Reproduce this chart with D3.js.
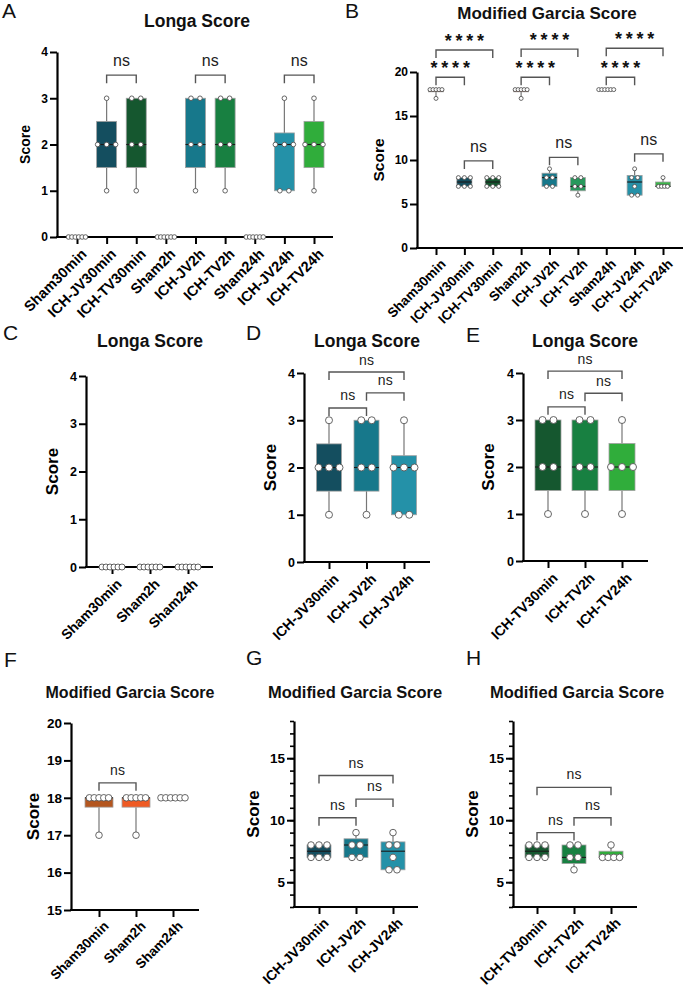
<!DOCTYPE html>
<html><head><meta charset="utf-8">
<script src="https://cdn.jsdelivr.net/npm/d3@7"></script>
<style>
body{margin:0;background:#fff}
svg{display:block}
text{font-family:"Liberation Sans",Arial,Helvetica,sans-serif}
</style>
</head><body>
<svg id="chart" width="685" height="988"></svg>
<script>
// ---------------- data ----------------
const categories = ["Sham30min","ICH-JV30min","ICH-TV30min","Sham2h","ICH-JV2h","ICH-TV2h","Sham24h","ICH-JV24h","ICH-TV24h"];
const shamGroups = ["Sham30min","Sham2h","Sham24h"];
const jvGroups = ["ICH-JV30min","ICH-JV2h","ICH-JV24h"];
const tvGroups = ["ICH-TV30min","ICH-TV2h","ICH-TV24h"];

// individual animal scores, in the order of `categories`
const longaValues = [
  [0,0,0,0,0,0],
  [1,2,2,2,3],
  [1,2,2,3,3],
  [0,0,0,0,0,0],
  [1,2,2,3,3],
  [1,2,2,3,3],
  [0,0,0,0,0,0],
  [1,1,2,2,2,3],
  [1,2,2,2,3]
];
const garciaValues = [
  [17,18,18,18,18,18],
  [7,7,7,8,8,8],
  [7,7,7,8,8,8],
  [17,18,18,18,18,18],
  [7,7,8,8,9],
  [6,7,7,8,8],
  [18,18,18,18,18,18],
  [6,6,7,8,8,9],
  [7,7,7,7,8]
];

const longaTicks = [0,1,2,3,4];
const garciaTicksB = [0,5,10,15,20];
const garciaTicksF = [15,16,17,18,19,20];
const garciaTicksGH = [5,10,15];
const garciaMinorGH = [3,4,5,6,7,8,9,10,11,12,13,14,15,16,17,18];

// comparisons: [group1, group2, bracket height (score units), label]
const bracketsA = [["ICH-JV30min","ICH-TV30min",3.5,"ns"],["ICH-JV2h","ICH-TV2h",3.5,"ns"],["ICH-JV24h","ICH-TV24h",3.5,"ns"]];
const bracketsB = [
  ["Sham30min","ICH-TV30min",22.5,"****"],["Sham30min","ICH-JV30min",19.4,"****"],["ICH-JV30min","ICH-TV30min",9.9,"ns"],
  ["Sham2h","ICH-TV2h",22.6,"****"],["Sham2h","ICH-JV2h",19.4,"****"],["ICH-JV2h","ICH-TV2h",10.3,"ns"],
  ["Sham24h","ICH-TV24h",22.7,"****"],["Sham24h","ICH-JV24h",19.4,"****"],["ICH-JV24h","ICH-TV24h",10.7,"ns"]
];
const bracketsC = [];
const bracketsD = [["ICH-JV30min","ICH-JV24h",4.02,"ns"],["ICH-JV2h","ICH-JV24h",3.58,"ns"],["ICH-JV30min","ICH-JV2h",3.26,"ns"]];
const bracketsE = [["ICH-TV30min","ICH-TV24h",4.04,"ns"],["ICH-TV2h","ICH-TV24h",3.57,"ns"],["ICH-TV30min","ICH-TV2h",3.28,"ns"]];
const bracketsF = [["Sham30min","Sham2h",18.4,"ns"]];
const bracketsG = [["ICH-JV30min","ICH-JV24h",13.6,"ns"],["ICH-JV2h","ICH-JV24h",11.7,"ns"],["ICH-JV30min","ICH-JV2h",10.2,"ns"]];
const bracketsH = [["ICH-TV30min","ICH-TV24h",12.65,"ns"],["ICH-TV2h","ICH-TV24h",10.2,"ns"],["ICH-TV30min","ICH-TV2h",9.0,"ns"]];

// ---------------- styles ----------------
const groupColors = {
  "Sham30min":"#b4561f","Sham2h":"#ef5a23","Sham24h":"#f39a5a",
  "ICH-JV30min":"#144e5f","ICH-TV30min":"#15572f",
  "ICH-JV2h":"#17788b","ICH-TV2h":"#188041",
  "ICH-JV24h":"#2491a8","ICH-TV24h":"#30ad3b"
};
const groupColorsB = Object.assign({}, groupColors, {"ICH-TV2h":"#27995c","ICH-TV24h":"#3bb84a"});

const svg = d3.select("#chart");

function quant(s, p){
  const n = s.length, pos = p*(n+1);
  if (pos <= 1) return s[0];
  if (pos >= n) return s[n-1];
  const lo = Math.floor(pos), f = pos - lo;
  return s[lo-1] + f*(s[lo]-s[lo-1]);
}

function drawPanel(cfg){
  const g = svg.append("g");
  const valuesOf = c => cfg.values[categories.indexOf(c)];
  const x = d3.scalePoint().domain(cfg.cats).range([cfg.xFirst, cfg.xLast]);
  const y = d3.scaleLinear().domain(cfg.domain).range([cfg.yBottom, cfg.yTop]);
  const colors = cfg.colors || groupColors;

  // panel letter & title
  g.append("text").attr("x",cfg.labelX).attr("y",cfg.labelY).attr("font-size",21).attr("fill","#111").text(cfg.label);
  g.append("text").attr("x",cfg.titleX).attr("y",cfg.titleY).attr("text-anchor","middle")
    .attr("font-size",cfg.titleSize).attr("font-weight","bold").attr("fill","#111").text(cfg.title);

  // y axis
  if (cfg.minor){
    const ym = g.append("g").attr("transform",`translate(${cfg.x0},0)`)
      .call(d3.axisLeft(y).tickValues(cfg.minor).tickSize(4).tickSizeOuter(0).tickFormat(""));
    ym.select(".domain").remove();
    ym.selectAll(".tick line").attr("stroke","#000").attr("stroke-width",1.6);
  }
  const ya = g.append("g").attr("transform",`translate(${cfg.x0},0)`)
    .call(d3.axisLeft(y).tickValues(cfg.ticks).tickSize(7).tickSizeOuter(0).tickFormat(d3.format("d")));
  ya.select(".domain").attr("stroke","#000").attr("stroke-width",2.2);
  ya.selectAll(".tick line").attr("stroke","#000").attr("stroke-width",2);
  ya.selectAll(".tick text").attr("font-size",cfg.tickFont).attr("font-weight","bold").attr("fill","#000").attr("x",-9);

  // x axis
  const xa = g.append("g").attr("transform",`translate(0,${cfg.yBottom})`)
    .call(d3.axisBottom(x).tickSize(7).tickSizeOuter(0));
  xa.select(".domain").remove();
  xa.selectAll(".tick line").attr("stroke","#000").attr("stroke-width",2);
  xa.selectAll(".tick text").attr("font-size",cfg.xFont).attr("font-weight","bold").attr("fill","#000")
    .attr("text-anchor","end").attr("x",0).attr("y",0).attr("dy",0)
    .attr("transform",`translate(${cfg.xlDx},${cfg.xlDy}) rotate(-45)`);
  g.append("line").attr("x1",cfg.x0-1).attr("x2",cfg.xEnd).attr("y1",cfg.yBottom).attr("y2",cfg.yBottom)
    .attr("stroke","#000").attr("stroke-width",2.2);

  // y label
  const sy = (cfg.yBottom + cfg.yTop)/2;
  g.append("text").attr("transform",`translate(${cfg.scoreX},${sy}) rotate(-90)`)
    .attr("text-anchor","middle").attr("dominant-baseline","central")
    .attr("font-size",cfg.scoreSize).attr("font-weight","bold").attr("fill","#000").text("Score");

  // boxes
  cfg.cats.forEach(c => {
    const v = valuesOf(c).slice().sort((a,b)=>a-b);
    const q1 = quant(v,0.25), med = quant(v,0.5), q3 = quant(v,0.75);
    const mn = v[0], mx = v[v.length-1];
    const cx = x(c), bw = cfg.boxW;
    const wg = g.append("g");
    if (mn < q1) wg.append("line").attr("x1",cx).attr("x2",cx).attr("y1",y(mn)).attr("y2",y(q1)).attr("stroke","#777").attr("stroke-width",1.2);
    if (mx > q3) wg.append("line").attr("x1",cx).attr("x2",cx).attr("y1",y(q3)).attr("y2",y(mx)).attr("stroke","#777").attr("stroke-width",1.2);
    if (q3 > q1){
      wg.append("rect").attr("x",cx-bw/2).attr("y",y(q3)).attr("width",bw).attr("height",y(q1)-y(q3))
        .attr("fill",colors[c]).attr("stroke","#a0a0a0").attr("stroke-width",0.8);
      wg.append("line").attr("x1",cx-bw/2).attr("x2",cx+bw/2).attr("y1",y(med)).attr("y2",y(med))
        .attr("stroke","#1a1a1a").attr("stroke-width",1.1);
    }
    // points (spread horizontally when tied)
    const byVal = d3.group(v, d => d);
    byVal.forEach((arr, val) => {
      const k = arr.length;
      const sp = k <= 3 ? cfg.wideSp : cfg.packSp;
      arr.forEach((d,i) => {
        wg.append("circle").attr("cx", cx + (i-(k-1)/2)*sp).attr("cy", y(val)).attr("r", cfg.r)
          .attr("fill","#fff").attr("stroke","#555").attr("stroke-width",0.9);
      });
    });
  });

  // significance brackets
  const drop = cfg.drop || 8;
  cfg.brackets.forEach(b => {
    const x1 = x(b[0]), x2 = x(b[1]), yy = y(b[2]);
    g.append("path").attr("d",`M${x1},${yy+drop}V${yy}H${x2}V${yy+drop}`)
      .attr("fill","none").attr("stroke","#555").attr("stroke-width",1.4);
    if (b[3] === "ns"){
      g.append("text").attr("x",(x1+x2)/2).attr("y",yy-cfg.nsGap).attr("text-anchor","middle")
        .attr("font-size",cfg.nsFont).attr("fill","#222").text(b[3]);
    } else {
      g.append("text").attr("x",(x1+x2)/2+1.9).attr("y",yy-3).attr("text-anchor","middle")
        .attr("font-size",18).attr("font-weight","bold").attr("letter-spacing",3.8).attr("fill","#111").text(b[3]);
    }
  });
}

const panels = [
  {label:"A",labelX:2,labelY:18,title:"Longa Score",titleX:197,titleY:27,titleSize:17.5,
   cats:categories,values:longaValues,domain:[0,4],ticks:longaTicks,
   x0:57,xEnd:333,xFirst:77,xLast:314,yBottom:237,yTop:52,
   boxW:20,r:2.3,wideSp:9,packSp:3.4,scoreX:25,scoreSize:14,tickFont:12,xFont:14.5,xlDx:10,xlDy:18,
   nsFont:16,nsGap:9,brackets:bracketsA},
  {label:"B",labelX:345,labelY:18,title:"Modified Garcia Score",titleX:547,titleY:19,titleSize:17,
   cats:categories,values:garciaValues,domain:[0,20],ticks:garciaTicksB,colors:groupColorsB,
   x0:417,xEnd:683,xFirst:436,xLast:663,yBottom:248,yTop:72,
   boxW:15,r:2,wideSp:6,packSp:3,scoreX:378,scoreSize:15.5,tickFont:12,xFont:13.5,xlDx:10,xlDy:17,
   nsFont:16,nsGap:9,brackets:bracketsB},
  {label:"C",labelX:3,labelY:340,title:"Longa Score",titleX:150,titleY:347,titleSize:17.5,
   cats:shamGroups,values:longaValues,domain:[0,4],ticks:longaTicks,
   x0:86,xEnd:213,xFirst:112,xLast:188,yBottom:567,yTop:376,
   boxW:25,r:3,wideSp:10,packSp:4,scoreX:52,scoreSize:17,tickFont:12.5,xFont:14,xlDx:10,xlDy:18,
   nsFont:14,nsGap:8,brackets:bracketsC},
  {label:"D",labelX:246,labelY:340,title:"Longa Score",titleX:367,titleY:347,titleSize:17.5,
   cats:jvGroups,values:longaValues,domain:[0,4],ticks:longaTicks,
   x0:304,xEnd:430,xFirst:329,xLast:404,yBottom:562,yTop:373,
   boxW:25,r:3.5,wideSp:10.5,packSp:5,scoreX:270,scoreSize:17,tickFont:12.5,xFont:14,xlDx:10,xlDy:18,
   nsFont:14,nsGap:7.5,brackets:bracketsD},
  {label:"E",labelX:466,labelY:342,title:"Longa Score",titleX:585,titleY:347,titleSize:17.5,
   cats:tvGroups,values:longaValues,domain:[0,4],ticks:longaTicks,
   x0:523,xEnd:648,xFirst:548,xLast:622,yBottom:561,yTop:373,
   boxW:26,r:3.5,wideSp:11,packSp:5,scoreX:488,scoreSize:17,tickFont:12.5,xFont:14,xlDx:10,xlDy:18,
   nsFont:14,nsGap:7.5,brackets:bracketsE},
  {label:"F",labelX:4,labelY:667,title:"Modified Garcia Score",titleX:130,titleY:698,titleSize:16,
   cats:shamGroups,values:garciaValues,domain:[15,20],ticks:garciaTicksF,
   x0:71,xEnd:199,xFirst:99,xLast:173,yBottom:910,yTop:723,
   boxW:28,r:3.3,wideSp:8,packSp:4.8,scoreX:33,scoreSize:17,tickFont:13.5,xFont:13.5,xlDx:10,xlDy:17,
   nsFont:14,nsGap:8,brackets:bracketsF},
  {label:"G",labelX:246,labelY:665,title:"Modified Garcia Score",titleX:355,titleY:698,titleSize:16.5,
   cats:jvGroups,values:garciaValues,domain:[3,18],ticks:garciaTicksGH,minor:garciaMinorGH,
   x0:294,xEnd:418,xFirst:319,xLast:393,yBottom:907,yTop:721,
   boxW:24,r:3.3,wideSp:8,packSp:5.7,scoreX:253,scoreSize:17,tickFont:13.5,xFont:14,xlDx:10,xlDy:17,
   nsFont:14,nsGap:8,brackets:bracketsG},
  {label:"H",labelX:466,labelY:665,title:"Modified Garcia Score",titleX:577,titleY:698,titleSize:16.5,
   cats:tvGroups,values:garciaValues,domain:[3,18],ticks:garciaTicksGH,minor:garciaMinorGH,
   x0:513,xEnd:637,xFirst:537,xLast:611,yBottom:907,yTop:721,
   boxW:24,r:3.3,wideSp:8,packSp:5.7,scoreX:472,scoreSize:17,tickFont:13.5,xFont:14,xlDx:10,xlDy:17,
   nsFont:14,nsGap:8,brackets:bracketsH}
];

panels.forEach(drawPanel);
</script>
</body></html>
